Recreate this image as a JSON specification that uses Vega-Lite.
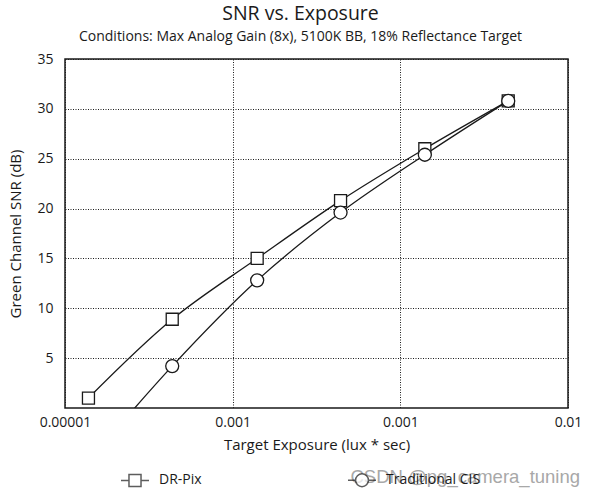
{
  "$schema": "https://vega.github.io/schema/vega-lite/v6.json",
  "width": 503,
  "height": 349,
  "autosize": {"type": "none"},
  "padding": {"left": 65, "top": 59, "right": 28, "bottom": 90},
  "title": {
    "text": "SNR vs. Exposure",
    "subtitle": "Conditions: Max Analog Gain (8x), 5100K BB, 18% Reflectance Target",
    "anchor": "middle",
    "dx": -16,
    "offset": 7,
    "fontSize": 19.5,
    "fontWeight": "normal",
    "color": "#1a1a1a",
    "subtitleFontSize": 14,
    "subtitleColor": "#1a1a1a",
    "subtitlePadding": 6
  },
  "data": {
    "values": [
      {"series": "DR-Pix", "exposure": 0.0000138, "snr": 1.0},
      {"series": "DR-Pix", "exposure": 0.0000436, "snr": 8.9},
      {"series": "DR-Pix", "exposure": 0.00014, "snr": 15.0},
      {"series": "DR-Pix", "exposure": 0.00044, "snr": 20.8},
      {"series": "DR-Pix", "exposure": 0.0014, "snr": 26.0},
      {"series": "DR-Pix", "exposure": 0.0044, "snr": 30.8},
      {"series": "Traditional CIS", "exposure": 0.0000138, "snr": -5.4},
      {"series": "Traditional CIS", "exposure": 0.0000436, "snr": 4.2},
      {"series": "Traditional CIS", "exposure": 0.00014, "snr": 12.8},
      {"series": "Traditional CIS", "exposure": 0.00044, "snr": 19.6},
      {"series": "Traditional CIS", "exposure": 0.0014, "snr": 25.4},
      {"series": "Traditional CIS", "exposure": 0.0044, "snr": 30.8}
    ]
  },
  "encoding": {
    "x": {
      "field": "exposure",
      "type": "quantitative",
      "title": "Target Exposure (lux * sec)",
      "scale": {"type": "log", "domain": [0.00001, 0.01], "nice": false},
      "axis": {
        "values": [0.00001, 0.0001, 0.001, 0.01],
        "labelExpr": "datum.value < 0.00002 ? '0.00001' : datum.value < 0.005 ? '0.001' : '0.01'",
        "labelFlush": false,
        "labelPadding": 7,
        "titlePadding": 8
      }
    },
    "y": {
      "field": "snr",
      "type": "quantitative",
      "title": "Green Channel SNR (dB)",
      "scale": {"domain": [0, 35], "nice": false, "zero": false},
      "axis": {
        "values": [5, 10, 15, 20, 25, 30, 35],
        "labelPadding": 12,
        "titlePadding": 13
      }
    }
  },
  "layer": [
    {
      "mark": {"type": "line", "interpolate": "catmull-rom", "color": "#1a1a1a", "strokeWidth": 1.3, "clip": true},
      "encoding": {"detail": {"field": "series"}}
    },
    {
      "transform": [{"filter": "datum.series === 'DR-Pix'"}],
      "mark": {"type": "point", "shape": "square", "size": 144, "filled": true, "fill": "white", "stroke": "#1a1a1a", "strokeWidth": 1.3, "opacity": 1, "clip": true}
    },
    {
      "transform": [{"filter": "datum.series === 'Traditional CIS'"}],
      "mark": {"type": "point", "shape": "circle", "size": 169, "filled": true, "fill": "white", "stroke": "#1a1a1a", "strokeWidth": 1.3, "opacity": 1, "clip": true}
    },
    {
      "transform": [{"filter": "false"}],
      "mark": {"type": "point", "filled": true, "fill": "white", "stroke": "#1a1a1a"},
      "encoding": {
        "shape": {
          "field": "series",
          "type": "nominal",
          "scale": {
            "domain": ["DR-Pix", "Traditional CIS"],
            "range": [
              "M-1,0H-0.43M0.43,0H1M-0.43,-0.43H0.43V0.43H-0.43Z",
              "M-1,0H-0.46M0.46,0H1M-0.46,0A0.46,0.46,0,1,1,0.46,0A0.46,0.46,0,1,1,-0.46,0Z"
            ]
          },
          "legend": {
            "title": null,
            "orient": "none",
            "direction": "horizontal",
            "legendX": 55,
            "legendY": 406,
            "columnPadding": 143,
            "symbolSize": 784,
            "labelFontSize": 14,
            "labelOffset": 9,
            "labelColor": "#1a1a1a",
            "encode": {
              "symbols": {
                "update": {
                  "fill": {"value": "white"},
                  "stroke": {"value": "#1a1a1a"},
                  "strokeWidth": {"value": 1.3},
                  "opacity": {"value": 1}
                }
              }
            }
          }
        }
      }
    },
    {
      "transform": [{"filter": "datum.series === 'DR-Pix' && datum.exposure > 0.004"}],
      "mark": {"type": "text", "align": "right", "baseline": "middle", "font": "Liberation Sans", "fontSize": 18.5, "color": "#999999", "opacity": 0.85, "clip": false},
      "encoding": {
        "x": {"datum": 0.0118, "type": "quantitative"},
        "y": {"datum": -6.9, "type": "quantitative"},
        "text": {"value": "CSDN @pg_camera_tuning"}
      }
    }
  ],
  "config": {
    "font": "Open Sans",
    "view": {"stroke": "#1a1a1a", "strokeWidth": 1.5},
    "axis": {
      "domain": false,
      "ticks": false,
      "grid": true,
      "gridColor": "#1a1a1a",
      "gridDash": [1, 1.5],
      "gridWidth": 1,
      "gridOpacity": 1,
      "labelFontSize": 14,
      "labelColor": "#1a1a1a",
      "titleFontSize": 15,
      "titleFontWeight": "normal",
      "titleColor": "#1a1a1a"
    }
  }
}
